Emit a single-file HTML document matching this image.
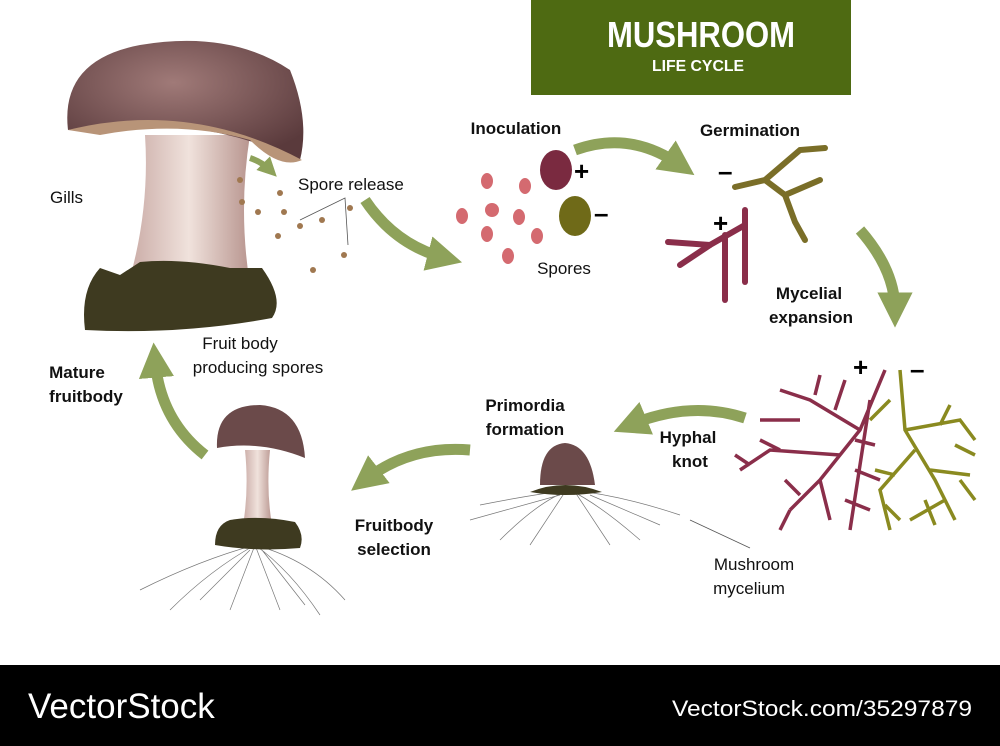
<!DOCTYPE html>
<html><head><meta charset="utf-8"><style>
html,body{margin:0;padding:0;background:#fff}
svg{display:block}
text{font-family:"Liberation Sans",Arial,sans-serif}
.b{font-weight:bold;font-size:17px;fill:#111}
.r{font-size:17px;fill:#111}
</style></head><body>
<svg width="1000" height="746" viewBox="0 0 1000 746" xmlns="http://www.w3.org/2000/svg">
<defs>
<radialGradient id="cap" cx="0.45" cy="0.35" r="0.7"><stop offset="0" stop-color="#a07a78"/><stop offset="1" stop-color="#5a3a3c"/></radialGradient>
<linearGradient id="stem" x1="0" x2="1"><stop offset="0" stop-color="#c9aaa5"/><stop offset="0.5" stop-color="#f0e2dc"/><stop offset="1" stop-color="#b8958f"/></linearGradient>
<marker id="ah" viewBox="0 0 10 10" refX="5" refY="5" markerWidth="3.2" markerHeight="3.2" orient="auto"><path d="M0,0 L10,5 L0,10 z" fill="#8ea25a"/></marker>
</defs>
<rect width="1000" height="746" fill="#fff"/>
<rect x="531" y="0" width="320" height="95" fill="#4e6a12"/>
<text x="607" y="47" textLength="188" lengthAdjust="spacingAndGlyphs" font-size="36" font-weight="bold" fill="#fff">MUSHROOM</text>
<text x="652" y="71" textLength="92" lengthAdjust="spacingAndGlyphs" font-size="16" font-weight="bold" fill="#fff">LIFE CYCLE</text>
<!-- big mushroom -->
<path d="M145,135 L250,135 Q238,210 250,285 L128,285 Q150,210 145,135z" fill="url(#stem)"/>
<path d="M85,330 Q80,290 100,268 L120,275 L140,262 Q180,258 230,268 L262,268 Q285,300 272,318 Q180,335 85,330z" fill="#3e3a20"/>
<path d="M68,130 Q60,60 140,45 Q230,30 290,70 Q310,120 300,160 Q190,110 68,130z" fill="url(#cap)"/>
<path d="M68,130 Q190,100 302,160 Q280,170 250,140 Q180,120 100,135z" fill="#b89478"/>
<g fill="#a07850"><circle cx="240" cy="180" r="3"/><circle cx="242" cy="202" r="3"/><circle cx="258" cy="212" r="3"/><circle cx="280" cy="193" r="3"/><circle cx="284" cy="212" r="3"/><circle cx="300" cy="226" r="3"/><circle cx="322" cy="220" r="3"/><circle cx="350" cy="208" r="3"/><circle cx="278" cy="236" r="3"/><circle cx="344" cy="255" r="3"/><circle cx="313" cy="270" r="3"/></g>
<path d="M300,220 L345,198 L348,245" stroke="#555" fill="none" stroke-width="0.8"/>
<text x="50" y="203" class="r">Gills</text>
<text x="298" y="190" class="r">Spore release</text>
<text x="240" y="349" class="r" text-anchor="middle">Fruit body</text>
<text x="258" y="373" class="r" text-anchor="middle">producing spores</text>
<g stroke="#8ea25a" fill="none" stroke-width="11" marker-end="url(#ah)">
<path d="M365,200 Q395,245 445,258"/>
<path d="M575,150 Q630,130 680,165"/>
<path d="M860,230 Q895,270 895,310"/>
<path d="M745,418 Q690,400 630,425"/>
<path d="M470,450 Q410,445 365,480"/>
<path d="M205,455 Q160,420 155,360"/>
<path d="M250,158 Q262,162 270,170" stroke-width="6"/>
</g>
<g fill="#d46a70"><ellipse cx="487" cy="181" rx="6" ry="8"/><ellipse cx="525" cy="186" rx="6" ry="8"/><ellipse cx="462" cy="216" rx="6" ry="8"/><ellipse cx="492" cy="210" rx="7" ry="7"/><ellipse cx="519" cy="217" rx="6" ry="8"/><ellipse cx="487" cy="234" rx="6" ry="8"/><ellipse cx="537" cy="236" rx="6" ry="8"/><ellipse cx="508" cy="256" rx="6" ry="8"/></g>
<ellipse cx="556" cy="170" rx="16" ry="20" fill="#7a2a40"/>
<ellipse cx="575" cy="216" rx="16" ry="20" fill="#6f6a18"/>
<text x="574" y="180" font-size="26" font-weight="bold">+</text>
<text x="594" y="222" font-size="26" font-weight="bold">–</text>
<text x="516" y="134" class="b" text-anchor="middle">Inoculation</text>
<text x="564" y="274" class="r" text-anchor="middle">Spores</text>
<g stroke="#7a6e28" stroke-width="6" fill="none" stroke-linecap="round"><path d="M735,187 L765,180 L800,150 L825,148"/><path d="M765,180 L785,195 L820,180"/><path d="M785,195 L795,222 L805,240"/></g>
<g stroke="#8a2e4a" stroke-width="6" fill="none" stroke-linecap="round"><path d="M745,210 L745,250 L745,282"/><path d="M745,225 L710,245 L668,242"/><path d="M710,245 L680,265"/><path d="M725,235 L725,300"/></g>
<text x="718" y="180" font-size="26" font-weight="bold">–</text>
<text x="713" y="232" font-size="26" font-weight="bold">+</text>
<text x="750" y="136" class="b" text-anchor="middle">Germination</text>
<text x="809" y="299" class="b" text-anchor="middle">Mycelial</text>
<text x="811" y="323" class="b" text-anchor="middle">expansion</text>
<g stroke="#8a2e4a" stroke-width="3.5" fill="none"><path d="M885,370 L860,430 L820,480 L790,510 M860,430 L810,400 L780,390 M840,455 L770,450 L740,470 M820,480 L830,520 M870,400 L850,530 M800,420 L760,420 M790,510 L780,530 M835,410 L845,380 M815,395 L820,375 M780,450 L760,440 M750,465 L735,455 M855,470 L880,480 M845,500 L870,510 M800,495 L785,480 M855,440 L875,445"/></g>
<g stroke="#8a8a20" stroke-width="3.5" fill="none"><path d="M900,370 L905,430 L935,480 L955,520 M905,430 L960,420 L975,440 M915,450 L880,490 L890,530 M930,470 L970,475 M890,400 L870,420 M945,500 L910,520 M940,425 L950,405 M955,445 L975,455 M895,475 L875,470 M885,505 L900,520 M925,500 L935,525 M960,480 L975,500"/></g>
<text x="853" y="376" font-size="26" font-weight="bold">+</text>
<text x="910" y="378" font-size="26" font-weight="bold">–</text>
<text x="688" y="443" class="b" text-anchor="middle">Hyphal</text>
<text x="690" y="467" class="b" text-anchor="middle">knot</text>
<path d="M690,520 L750,548" stroke="#555" stroke-width="0.8"/>
<text x="754" y="570" class="r" text-anchor="middle">Mushroom</text>
<text x="749" y="594" class="r" text-anchor="middle">mycelium</text>
<g stroke="#777" stroke-width="0.7" fill="none"><path d="M480,505 Q530,495 570,490 Q620,495 680,515 M500,540 Q540,500 570,490 M640,540 Q600,505 570,490 M470,520 L560,495 M530,545 L565,492 M610,545 L575,492 M660,525 L590,495"/></g>
<path d="M540,485 Q540,445 565,443 Q590,445 595,485z" fill="#6b4a4a"/>
<path d="M530,492 Q565,478 602,492 Q565,498 530,492z" fill="#3e3a20"/>
<text x="525" y="411" class="b" text-anchor="middle">Primordia</text>
<text x="525" y="435" class="b" text-anchor="middle">formation</text>
<g stroke="#777" stroke-width="0.7" fill="none"><path d="M140,590 Q200,560 255,545 Q310,560 345,600 M170,610 Q210,570 255,545 M320,615 Q290,570 255,545 M230,610 L255,545 M280,610 L255,545 M200,600 L250,550 M305,605 L262,550"/></g>
<path d="M245,450 L270,450 Q266,490 272,525 L243,525 Q249,490 245,450z" fill="url(#stem)"/>
<path d="M217,448 Q215,405 260,405 Q302,408 305,458 Q260,440 217,448z" fill="#6b4a4a"/>
<path d="M215,545 Q215,525 230,520 Q260,515 295,522 Q305,535 300,548 Q255,552 215,545z" fill="#3e3a20"/>
<text x="394" y="531" class="b" text-anchor="middle">Fruitbody</text>
<text x="394" y="555" class="b" text-anchor="middle">selection</text>
<text x="77" y="378" class="b" text-anchor="middle">Mature</text>
<text x="86" y="402" class="b" text-anchor="middle">fruitbody</text>
<rect x="0" y="665" width="1000" height="81" fill="#000"/>
<text x="28" y="718" font-size="35" fill="#fff">VectorStock</text>
<text x="672" y="716" font-size="22" textLength="300" lengthAdjust="spacingAndGlyphs" fill="#fff">VectorStock.com/35297879</text>
</svg>
</body></html>
